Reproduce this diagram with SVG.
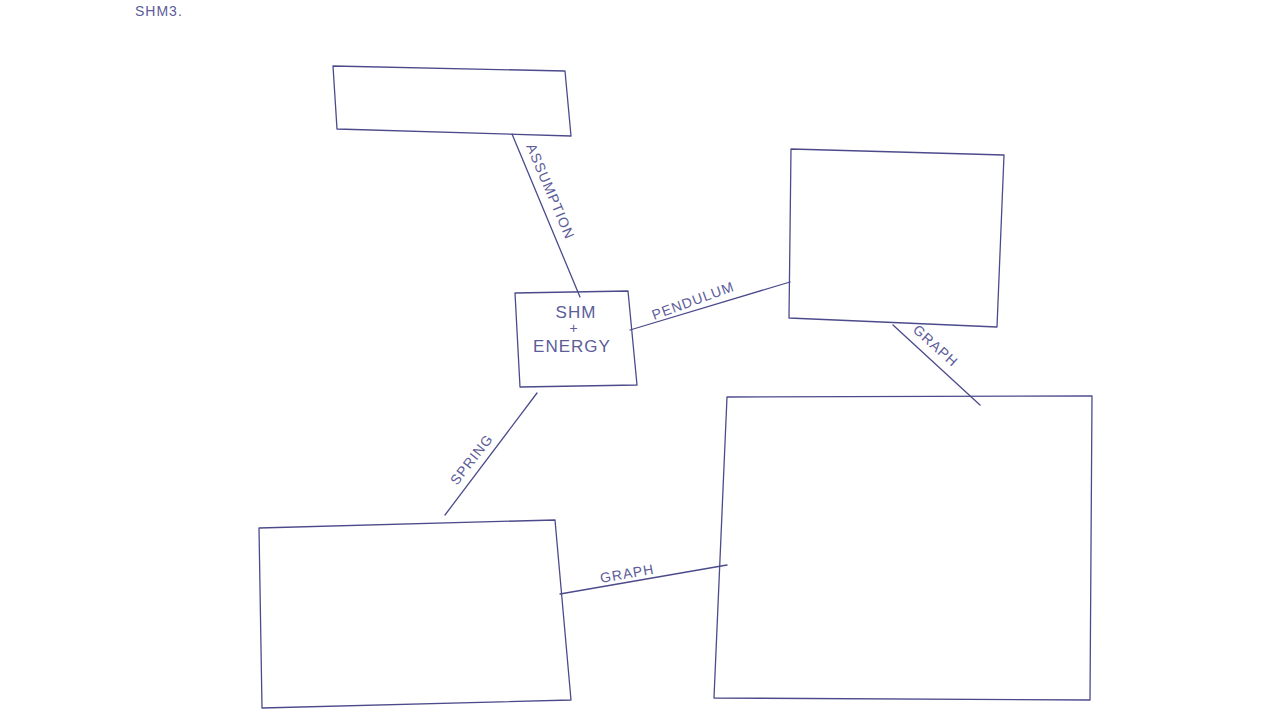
<svg xmlns="http://www.w3.org/2000/svg" width="1280" height="720" viewBox="0 0 1280 720">
<style>
.box{fill:none;stroke:#4b4b8c;stroke-width:1.3;stroke-linejoin:round}
.con{fill:none;stroke:#4b4b8c;stroke-width:1.3;stroke-linecap:round}
.lbl{font-family:"Liberation Sans",Arial,sans-serif;font-size:14px;fill:#5c5c99;letter-spacing:1px}
.big{font-family:"Liberation Sans",Arial,sans-serif;font-size:17px;fill:#5c5c99;letter-spacing:1px}
</style>
<rect width="1280" height="720" fill="#ffffff"/>
<text class="lbl" x="135" y="16">SHM3.</text>
<g id="connectors">
<line class="con" x1="512" y1="134" x2="580" y2="297"/>
<line class="con" x1="630" y1="330" x2="790" y2="282"/>
<line class="con" x1="893" y1="325" x2="980" y2="405"/>
<line class="con" x1="537" y1="393" x2="445" y2="515"/>
<line class="con" x1="560" y1="594" x2="727" y2="565"/>
<text class="lbl" transform="translate(526,146) rotate(67)">ASSUMPTION</text>
<text class="lbl" transform="translate(654,320) rotate(-20)">PENDULUM</text>
<text class="lbl" transform="translate(912,331) rotate(42)">GRAPH</text>
<text class="lbl" transform="translate(457,486) rotate(-52)">SPRING</text>
<text class="lbl" transform="translate(601,583) rotate(-10)">GRAPH</text>
</g>
<g id="node-top">
<polygon class="box" points="333,66 565,71 571,136 337,129"/>
</g>
<g id="node-shm">
<polygon class="box" points="515,293 628,291 637,385 520,387"/>
<text class="big" x="576" y="318" text-anchor="middle">SHM</text>
<text class="lbl" x="574" y="333" text-anchor="middle">+</text>
<text class="big" x="572" y="352" text-anchor="middle" font-size="16">ENERGY</text>
</g>
<g id="node-topright">
<polygon class="box" points="791,149 1004,155 997,327 789,318"/>
</g>
<g id="node-bigright">
<polygon class="box" points="727,397 1092,396 1090,700 714,698"/>
</g>
<g id="node-bottomleft">
<polygon class="box" points="259,528 555,520 571,700 262,708"/>
</g>
</svg>
